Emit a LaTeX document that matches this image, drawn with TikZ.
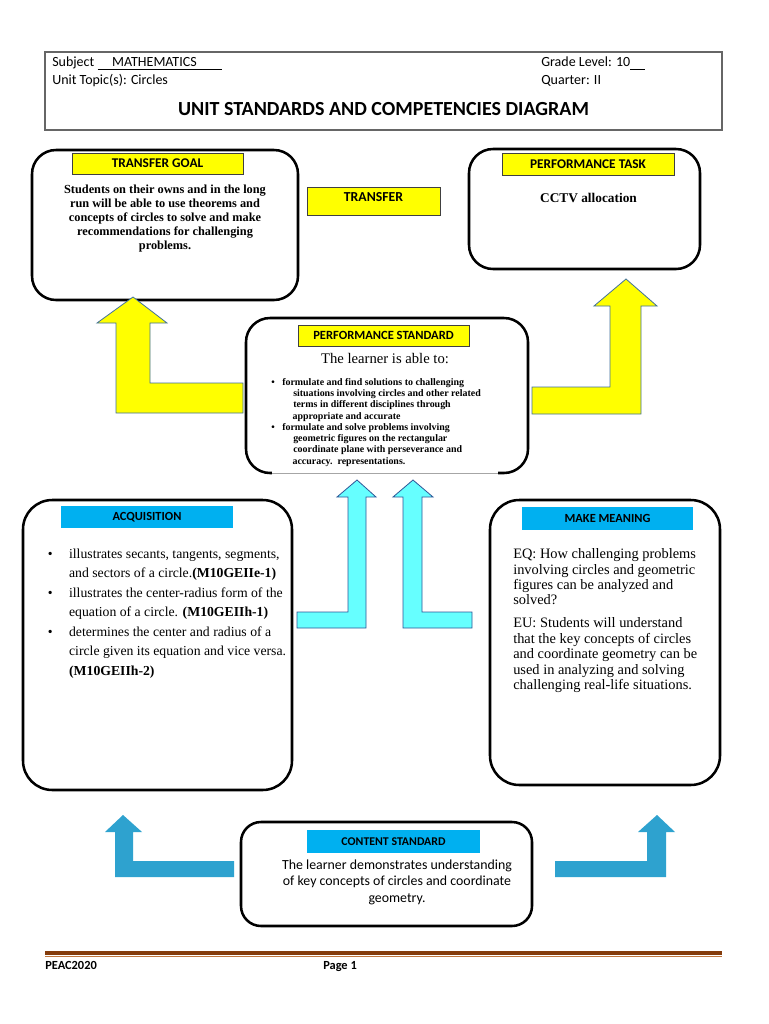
\documentclass[tikz,border=0pt]{standalone}
\usepackage{fontspec}
\setmainfont{Liberation Serif}
\newfontfamily\calib{Carlito}
\definecolor{ylw}{HTML}{FFFF00}
\definecolor{yedge}{HTML}{41719C}
\definecolor{lcyan}{HTML}{66FFFF}
\definecolor{cedge}{HTML}{2F5597}
\definecolor{dblue}{HTML}{2EA2CF}
\definecolor{lblue}{HTML}{00B0F0}
\definecolor{brwA}{HTML}{843C0C}
\definecolor{brwB}{HTML}{C07840}
\begin{document}
\begin{tikzpicture}[x=0.75pt,y=-0.75pt,
  rbox/.style={draw=black, line width=1.9pt, inner sep=0pt, rounded corners=18pt},
  ylab/.style={draw=black!75, line width=0.7pt, fill=ylw, inner sep=0pt, font=\calib\bfseries\fontsize{10}{12}\selectfont},
  blab/.style={fill=lblue, inner sep=0pt, font=\calib\bfseries\fontsize{9.3}{11}\selectfont},
  yarr/.style={fill=ylw, draw=yedge, line width=0.6pt},
  carr/.style={fill=lcyan, draw=cedge, line width=0.6pt},
  barr/.style={fill=dblue},
  hdr/.style={font=\calib\fontsize{10.5}{12}\selectfont, inner sep=0pt, anchor=base west},
]
\useasboundingbox (0,0) rectangle (768,1024);
\fill[white] (0,0) rectangle (768,1024);

% header
\node[draw=black!60, line width=1.1pt, minimum width=507.75pt, minimum height=58.5pt, inner sep=0pt] (hdrbox) at (383.5,91) {};
\node[hdr] (subj) at (52,67) {Subject \underline{\hspace{11pt}MATHEMATICS\hspace{19pt}}};
\node[hdr] (topic) at (52,84.5) {Unit Topic(s): Circles};
\node[hdr] (grade) at (541,67) {Grade Level: 10\underline{\hspace{11pt}}};
\node[hdr] (quarter) at (541,84.5) {Quarter: II};
\node[font=\calib\bfseries\fontsize{15}{18}\selectfont, inner sep=0pt, anchor=base] (title) at (383.5,115) {UNIT STANDARDS AND COMPETENCIES DIAGRAM};

% boxes
\node[rbox, minimum width=199.5pt, minimum height=112.5pt] (tg) at (165,225) {};
\node[rbox, minimum width=173.25pt, minimum height=90pt] (pt) at (584.5,209) {};
\node[rbox, minimum width=211.5pt, minimum height=116.25pt] (ps) at (387,395.5) {};
\node[rbox, rounded corners=22pt, minimum width=201.75pt, minimum height=217.5pt] (acq) at (157.5,645) {};
\node[rbox, rounded corners=22pt, minimum width=172.5pt, minimum height=213.75pt] (mm) at (605,642.5) {};
\node[rbox, rounded corners=15pt, minimum width=218.25pt, minimum height=78pt] (cs) at (386.5,874) {};
% faded bottom edge of the performance standard box
\draw[white, line width=2.4pt] (272,473) -- (498,473);
\draw[black!35, line width=0.6pt] (272,473.5) -- (498,473.5);

% labels
\node[ylab, minimum width=128.25pt, minimum height=15.75pt] (tglab) at (157.5,163.5) {TRANSFER GOAL};
\node[ylab, minimum width=99.75pt, minimum height=21pt, text height=6.6pt, text depth=6pt, font=\calib\bfseries\fontsize{10.3}{12}\selectfont] (transfer) at (373.5,201) {TRANSFER};
\node[ylab, minimum width=129pt, minimum height=16.5pt] (ptlab) at (588,164) {PERFORMANCE TASK};
\node[ylab, minimum width=128.25pt, minimum height=15.75pt, font=\calib\bfseries\fontsize{9.4}{11}\selectfont] (pslab) at (383.5,335.5) {PERFORMANCE STANDARD};
\node[blab, minimum width=129pt, minimum height=16.5pt] (acqlab) at (147,517) {ACQUISITION};
\node[blab, minimum width=128.25pt, minimum height=17.25pt] (mmlab) at (607.5,518.5) {MAKE MEANING};
\node[blab, minimum width=129.75pt, minimum height=17.25pt, font=\calib\bfseries\fontsize{8.9}{11}\selectfont] (cslab) at (393.5,841.5) {CONTENT STANDARD};

% texts
\node[anchor=north, inner sep=0pt, align=center, font=\bfseries\fontsize{9.25}{10.5}\selectfont] (tgtext) at (165,184.4) {Students on their owns and in the long\\run will be able to use theorems and\\concepts of circles to solve and make\\recommendations for challenging\\problems.};
\node[anchor=base, inner sep=0pt, font=\bfseries\fontsize{10}{12}\selectfont] (cctv) at (588.5,202.4) {CCTV allocation};
\node[anchor=base, inner sep=0pt, font=\fontsize{11}{13}\selectfont] (pslead) at (385,363.5) {The learner is able to:};
\node[anchor=north west, inner sep=0pt, align=left, font=\bfseries\fontsize{7.45}{8.45}\selectfont] (pslist) at (271,378) {%
\makebox[8.25pt][l]{\textbullet}formulate and find solutions to challenging\\
\hspace*{16.5pt}situations involving circles and other related\\
\hspace*{16.5pt}terms in different disciplines through\\
\hspace*{16pt}appropriate and accurate\\
\makebox[8.25pt][l]{\textbullet}formulate and solve problems involving\\
\hspace*{16.5pt}geometric figures on the rectangular\\
\hspace*{16.5pt}coordinate plane with perseverance and\\
\hspace*{16pt}accuracy.\ \ representations.};
\node[anchor=north west, inner sep=0pt, align=left, font=\fontsize{10.3}{14.6}\selectfont] (acqtext) at (47.5,548.6) {%
\makebox[16pt][l]{\textbullet}illustrates secants, tangents, segments,\\
\hspace*{16pt}and sectors of a circle.\textbf{(M10GEIIe-1)}\\
\makebox[16pt][l]{\textbullet}illustrates the center-radius form of the\\
\hspace*{16pt}equation of a circle. \textbf{(M10GEIIh-1)}\\
\makebox[16pt][l]{\textbullet}determines the center and radius of a\\
\hspace*{16pt}circle given its equation and vice versa.\\
\hspace*{16pt}\textbf{(M10GEIIh-2)}};
\node[anchor=north west, inner sep=0pt, align=left, font=\fontsize{10.8}{11.6}\selectfont] (mmtext) at (513,548.3) {%
EQ: How challenging problems\\involving circles and geometric\\figures can be analyzed and\\solved?\\[5.6pt]
EU: Students will understand\\that the key concepts of circles\\and coordinate geometry can be\\used in analyzing and solving\\challenging real-life situations.};
\node[anchor=north, inner sep=0pt, align=center, font=\calib\fontsize{10.4}{12.4}\selectfont] (cstext) at (397,859.5) {The learner demonstrates understanding\\of key concepts of circles and coordinate\\geometry.};

% block arrows
\draw[yarr] (133,297) -- (167,323) -- (150,323) -- (150,383) -- (243,383) -- (243,413) -- (116,413) -- (116,323) -- (97,323) -- cycle;
\draw[yarr] (626,279) -- (657,306) -- (641,306) -- (641,414) -- (532,414) -- (532,387) -- (610,387) -- (610,306) -- (594,306) -- cycle;
\draw[carr] (357,480) -- (376,497) -- (366,497) -- (366,628) -- (297,628) -- (297,612) -- (348,612) -- (348,497) -- (337,497) -- cycle;
\draw[carr] (413,480) -- (433,497) -- (422,497) -- (422,612) -- (472,612) -- (472,628) -- (403,628) -- (403,497) -- (393,497) -- cycle;
\fill[barr] (123,815) -- (142,832) -- (133,832) -- (133,861) -- (234,861) -- (234,877) -- (115,877) -- (115,832) -- (105,832) -- cycle;
\fill[barr] (657,815) -- (675,832) -- (666,832) -- (666,877) -- (555,877) -- (555,861) -- (647,861) -- (647,832) -- (638,832) -- cycle;

% footer
\draw[brwA, line width=2.4pt] (45,953) -- (722,953);
\draw[brwB, line width=0.9pt] (45,956.8) -- (722,956.8);
\node[font=\calib\bfseries\fontsize{9.3}{11}\selectfont, anchor=base west, inner sep=0pt] (peac) at (45,969) {PEAC2020};
\node[font=\calib\bfseries\fontsize{9.3}{11}\selectfont, anchor=base west, inner sep=0pt] (page) at (323,969) {Page 1};
\end{tikzpicture}
\end{document}
